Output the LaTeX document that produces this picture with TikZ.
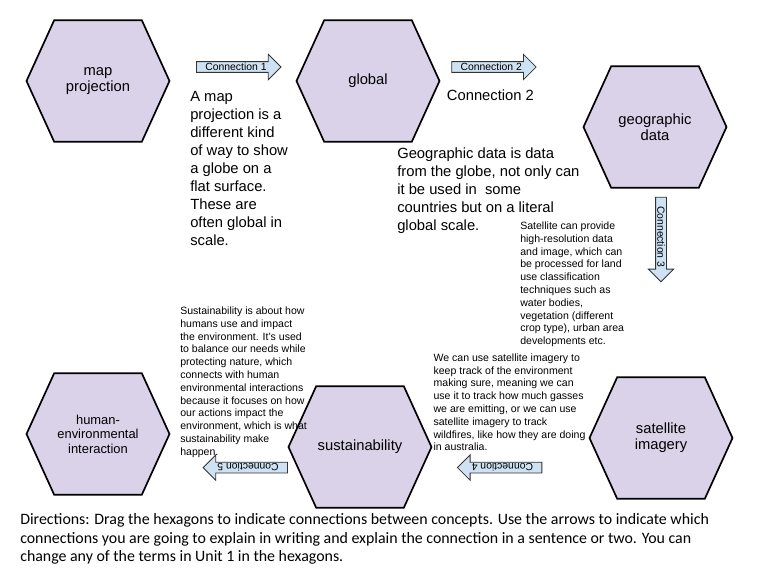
\documentclass[tikz,border=0pt]{standalone}
\usepackage{fontspec}
\setmainfont{Liberation Sans}
\newfontfamily\dirfont{Carlito}
\usetikzlibrary{shapes.symbols}
\usetikzlibrary{shapes.arrows}

\definecolor{hexfill}{HTML}{D9D2E9}
\definecolor{arrowfill}{HTML}{CFE2F3}

\begin{document}
\begin{tikzpicture}[
        hexa/.style={signal, signal to=east and west, signal pointer angle=131,
            draw=black, line width=1.2pt, fill=hexfill, inner sep=0pt,
            minimum width=3.575cm, minimum height=3.04cm, align=center,
            font=\fontsize{10.5}{11.5}\selectfont},
        conn/.style={single arrow, draw=black!80, line width=0.6pt, fill=arrowfill,
            single arrow head extend=0.18cm, single arrow tip angle=90,
            inner xsep=6pt, inner ysep=0.9pt, text height=5.3pt, text depth=0pt,
            font=\fontsize{7.4}{8}\selectfont},
        bigtext/.style={anchor=north west, inner sep=0pt, align=left,
            font=\fontsize{10.5}{12.8}\selectfont},
        smalltext/.style={anchor=north west, inner sep=0pt, align=left,
            font=\fontsize{7.5}{9.1}\selectfont}
    ]

            \useasboundingbox (0,0) rectangle (19.2,14.4);
            %\draw [help lines] (0,0) grid (19,14); 

            % concepts
            \path   (2.45,12.375)  node (map) [hexa] {map\\projection}
                    (9.2,12.375)   node (glob) [hexa] {global}
                    (16.375,11.225) node (geo) [hexa] {geographic\\data}
                    (16.525,3.45)  node (sat) [hexa] {satellite\\imagery}
                    (9.0,3.225)    node (sust) [hexa] {sustainability}
                    (2.45,3.55)    node (human) [hexa, font=\fontsize{9.2}{10.4}\selectfont] {human-\\environmental\\interaction};

            % connections
            \path   (5.9,12.725)    node (c1) [conn] {Connection 1}
                    (12.28,12.725)  node (c2) [conn] {Connection 2}
                    (16.525,8.48)   node (c3) [conn, rotate=-90] {Connection 3}
                    (12.56,2.71)    node (c4) [conn, rotate=180] {Connection 4}
                    (6.2,2.71)      node (c5) [conn, rotate=180] {Connection 5};

            % explanations
            \path   (4.75,12.125) node (t1) [bigtext] {A map\\projection is a\\different kind\\of way to show\\a globe on a\\flat surface.\\These are\\often global in\\scale.}
                    (11.167,12.167) node (t2) [bigtext] {Connection 2}
                    (9.925,10.7) node (t3) [bigtext] {Geographic data is data\\from the globe, not only can\\it be used in \ some\\countries but on a literal\\global scale.}
                    (13.0,8.86) node (t4) [smalltext] {Satellite can provide\\high-resolution data\\and image, which can\\be processed for land\\use classification\\techniques such as\\water bodies,\\vegetation (different\\crop type), urban area\\developments etc.}
                    (10.833,5.567) node (t5) [smalltext] {We can use satellite imagery to\\keep track of the environment\\making sure, meaning we can\\use it to track how much gasses\\we are emitting, or we can use\\satellite imagery to track\\wildfires, like how they are doing\\in australia.}
                    (4.5,6.733) node (t6) [smalltext] {Sustainability is about how\\humans use and impact\\the environment. It's used\\to balance our needs while\\protecting nature, which\\connects with human\\environmental interactions\\because it focuses on how\\our actions impact the\\environment, which is what\\sustainability make\\happen.};

            \path   (0.5,1.57) node (dir) [anchor=north west, inner sep=0pt, align=left, font=\dirfont\fontsize{11.3}{13.2}\selectfont] {Directions: Drag the hexagons to indicate connections between concepts. Use the arrows to indicate which\\connections you are going to explain in writing and explain the connection in a sentence or two. You can\\change any of the terms in Unit 1 in the hexagons.};
        \end{tikzpicture}
\end{document}
